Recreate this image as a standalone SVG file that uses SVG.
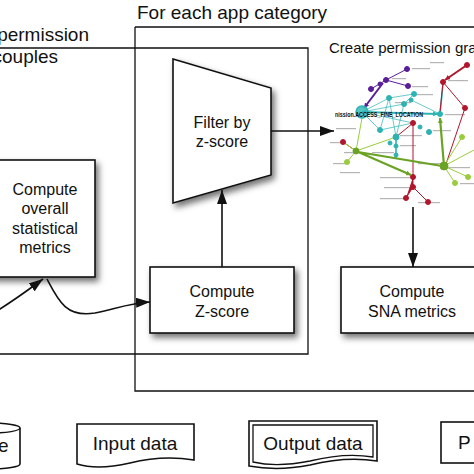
<svg xmlns="http://www.w3.org/2000/svg" width="474" height="474" viewBox="0 0 474 474">
<defs>
<style>
text{font-family:"Liberation Sans",Arial,sans-serif;fill:#111}
.lbl{font-size:16px;text-anchor:middle}
.big{font-size:19px}
.frame{fill:none;stroke:#111;stroke-width:1.3}
.box{fill:#fff;stroke:#111;stroke-width:1.6}
.conn{fill:none;stroke:#111;stroke-width:1.6}
.tiny{fill:#b5b5b5}
.pu{stroke:#5a1d9a;fill:#5a1d9a}
.te{stroke:#2db3b3;fill:#2db3b3}
.re{stroke:#b0162c;fill:#b0162c}
.gr{stroke:#6aa223;fill:#6aa223}
.lg{stroke:#9acd3c;fill:#9acd3c}
</style>
<filter id="sh" x="-20%" y="-20%" width="150%" height="150%">
<feDropShadow dx="3" dy="4" stdDeviation="3" flood-color="#000" flood-opacity="0.55"/>
</filter>
<marker id="ah" viewBox="0 0 14 10" refX="14" refY="5" markerWidth="14" markerHeight="10" markerUnits="userSpaceOnUse" orient="auto">
<path d="M0,0 L14,5 L0,10 Z" fill="#111"/>
</marker>
<marker id="ahs" viewBox="0 0 10 10" refX="10" refY="5" markerWidth="5" markerHeight="5" markerUnits="userSpaceOnUse" orient="auto">
<path d="M0,0 L10,5 L0,10 Z" fill="context-stroke"/>
</marker>
</defs>

<g id="frames">
<path class="frame" d="M135 27 H480 M135 27 V391 H480"/>
<path class="frame" d="M-5 48 H308 V354 H-5"/>
<text class="big" x="137" y="19">For each app category</text>
<text class="big" x="89" y="41" text-anchor="end">permission</text>
<text class="big" x="58" y="63" text-anchor="end">couples</text>
</g>

<g id="stats">
<rect class="box" filter="url(#sh)" x="-10" y="160" width="105" height="117"/>
<text class="lbl" x="45" y="195">Compute</text>
<text class="lbl" x="45" y="214">overall</text>
<text class="lbl" x="45" y="234">statistical</text>
<text class="lbl" x="45" y="253">metrics</text>
</g>

<g id="filter">
<path class="box" filter="url(#sh)" d="M173 59 L271 88 L271 175 L173 203 Z"/>
<text class="lbl" x="222" y="128">Filter by</text>
<text class="lbl" x="222" y="147">z-score</text>
</g>

<g id="zscore">
<rect class="box" filter="url(#sh)" x="150" y="267" width="144" height="66"/>
<text class="lbl" x="222" y="297">Compute</text>
<text class="lbl" x="222" y="317">Z-score</text>
</g>

<g id="sna">
<rect class="box" filter="url(#sh)" x="341" y="267" width="142" height="66"/>
<text class="lbl" x="412" y="297">Compute</text>
<text class="lbl" x="412" y="317">SNA metrics</text>
</g>

<g id="graph">
<text x="329" y="53" font-size="15">Create permission graph</text>
<g class="tiny">
<rect x="412" y="68" width="18" height="1.2"/><rect x="392" y="78" width="14" height="1.2"/><rect x="412" y="86" width="16" height="1.2"/>
<rect x="448" y="80" width="20" height="1.2"/><rect x="430" y="62" width="14" height="1.2"/><rect x="415" y="94" width="18" height="1.2"/>
<rect x="395" y="102" width="16" height="1.2"/><rect x="445" y="114" width="20" height="1.2"/><rect x="336" y="128" width="20" height="1.2"/>
<rect x="400" y="135" width="22" height="1.2"/><rect x="433" y="130" width="18" height="1.2"/><rect x="330" y="142" width="16" height="1.2"/>
<rect x="344" y="152" width="20" height="1.2"/><rect x="333" y="163" width="14" height="1.2"/><rect x="372" y="152" width="22" height="1.2"/>
<rect x="418" y="163" width="24" height="1.2"/><rect x="448" y="167" width="22" height="1.2"/><rect x="380" y="177" width="30" height="1.2"/>
<rect x="384" y="187" width="26" height="1.2"/><rect x="380" y="198" width="24" height="1.2"/><rect x="418" y="202" width="22" height="1.2"/>
<rect x="460" y="183" width="14" height="1.2"/><rect x="340" y="172" width="20" height="1.2"/><rect x="400" y="145" width="16" height="1.2"/>
</g>
<g stroke-width="1" fill="none">
<path class="te" fill="none" stroke-opacity="0.7" d="M362 112 L389 98 M362 112 L404 104 M362 112 L380 130 M362 112 L413 123 M389 98 L380 130 M389 98 L396 137 M404 104 L396 137 M411 100 L440 114 M380 130 L413 123 M414 94 L404 104 M389 98 L414 94"/>
<path class="te" fill="none" stroke-width="1.8" d="M362 112 L438 114" marker-end="url(#ahs)"/>
<path class="te" fill="none" stroke-width="1.6" d="M396 137 V158 M440 114 L443 84"/>
<path class="pu" fill="none" d="M407 69 L386 80 M386 80 L371 89 M408 86 L386 80"/>
<path class="pu" fill="none" stroke-width="2" d="M383 83 L364 108" marker-end="url(#ahs)"/>
<path class="re" fill="none" stroke-width="2" d="M467 65 L445 80" marker-end="url(#ahs)"/>
<path class="re" fill="none" d="M443 82 L465 108 M465 108 L446 164 M443 82 L440 112 M413 123 V177 M413 177 L413 187 L406 198 M413 187 L428 202 M343 142 L356 151 M413 123 L396 137"/>
<path class="gr" fill="none" stroke-width="2.2" d="M358 152 L442 166 M356 151 L411 175" marker-end="url(#ahs)"/>
<path class="gr" fill="none" stroke-width="2.2" d="M444 166 L440 118" marker-end="url(#ahs)"/>
<path class="lg" fill="none" d="M356 151 L362 118 M356 151 L347 162 M356 151 L396 137 M444 166 L455 183 M444 166 L468 177 M444 166 L462 137 M444 166 L474 150 M356 151 L343 142"/>
</g>
<g>
<circle class="pu" cx="407" cy="69" r="2.5"/><circle class="pu" cx="386" cy="80" r="2.5"/><circle class="pu" cx="380" cy="84" r="2"/>
<circle class="pu" cx="371" cy="89" r="2.5"/><circle class="pu" cx="408" cy="86" r="2.5"/>
<circle class="te" cx="362" cy="112" r="6" fill-opacity="0.8" stroke-width="1.5"/>
<circle class="te" cx="389" cy="98" r="2.5"/><circle class="te" cx="404" cy="104" r="2.5"/><circle class="te" cx="414" cy="94" r="2.5"/>
<circle class="te" cx="411" cy="100" r="2"/><circle class="te" cx="440" cy="114" r="2.5"/><circle class="te" cx="380" cy="130" r="2.5"/>
<circle class="te" cx="396" cy="137" r="3"/><circle class="te" cx="396" cy="146" r="2"/><circle class="te" cx="396" cy="155" r="2"/>
<circle class="te" cx="429" cy="132" r="2.5"/><circle class="te" cx="420" cy="127" r="2"/><circle class="te" cx="390" cy="143" r="2"/>
<circle class="re" cx="467" cy="65" r="2.5"/><circle class="re" cx="443" cy="82" r="2.5"/><circle class="re" cx="465" cy="108" r="2.5"/>
<circle class="re" cx="413" cy="123" r="2.5"/><circle class="re" cx="343" cy="142" r="2.5"/><circle class="re" cx="413" cy="177" r="2.5"/>
<circle class="re" cx="413" cy="187" r="2.5"/><circle class="re" cx="406" cy="198" r="2.5"/><circle class="re" cx="428" cy="202" r="2.5"/>
<circle class="gr" cx="356" cy="151" r="3"/><circle class="lg" cx="347" cy="162" r="2.5"/><circle class="gr" cx="444" cy="166" r="4"/>
<circle class="lg" cx="455" cy="183" r="2.5"/><circle class="lg" cx="468" cy="177" r="2.5"/><circle class="lg" cx="462" cy="137" r="2.5"/>
</g>
<text x="335" y="117" font-size="6.5" font-weight="bold" textLength="88" lengthAdjust="spacingAndGlyphs">nission.ACCESS_FINE_LOCATION</text>
</g>

<g id="connectors">
<path class="conn" d="M-5 312 C15 300 28 290 43 279" marker-end="url(#ah)"/>
<path class="conn" d="M47 279 C58 300 66 318 95 313 C115 309 130 303 150 302" marker-end="url(#ah)"/>
<path class="conn" d="M222 267 V190" marker-end="url(#ah)"/>
<path class="conn" d="M271 131 H334" marker-end="url(#ah)"/>
<path class="conn" d="M413 207 V267" marker-end="url(#ah)"/>
</g>

<g id="legend-db">
<path class="box" d="M-40 428 A30 5 0 0 1 20 428 V464 A30 5 0 0 1 -40 464 Z"/>
<path class="frame" d="M-40 428 A30 5 0 0 0 20 428"/>
<text class="big" x="-2" y="452">e</text>
</g>
<g id="legend-input">
<path class="box" d="M77 424 H194 V460 C170 456 150 458 130 463 C108 468 90 468 77 464 Z"/>
<text class="big" x="135" y="450" text-anchor="middle">Input data</text>
</g>
<g id="legend-output">
<path class="box" d="M249 421 H377 V461 C352 457 330 460 310 465 C285 470 265 469 249 466 Z"/>
<path class="frame" d="M253 425 H373 V457 C350 453 330 456 310 461 C285 466 266 465 253 462 Z"/>
<text class="big" x="313" y="450" text-anchor="middle">Output data</text>
</g>
<g id="legend-p">
<rect class="box" x="441" y="422" width="50" height="41"/>
<text class="big" x="458" y="449">P</text>
</g>
</svg>
